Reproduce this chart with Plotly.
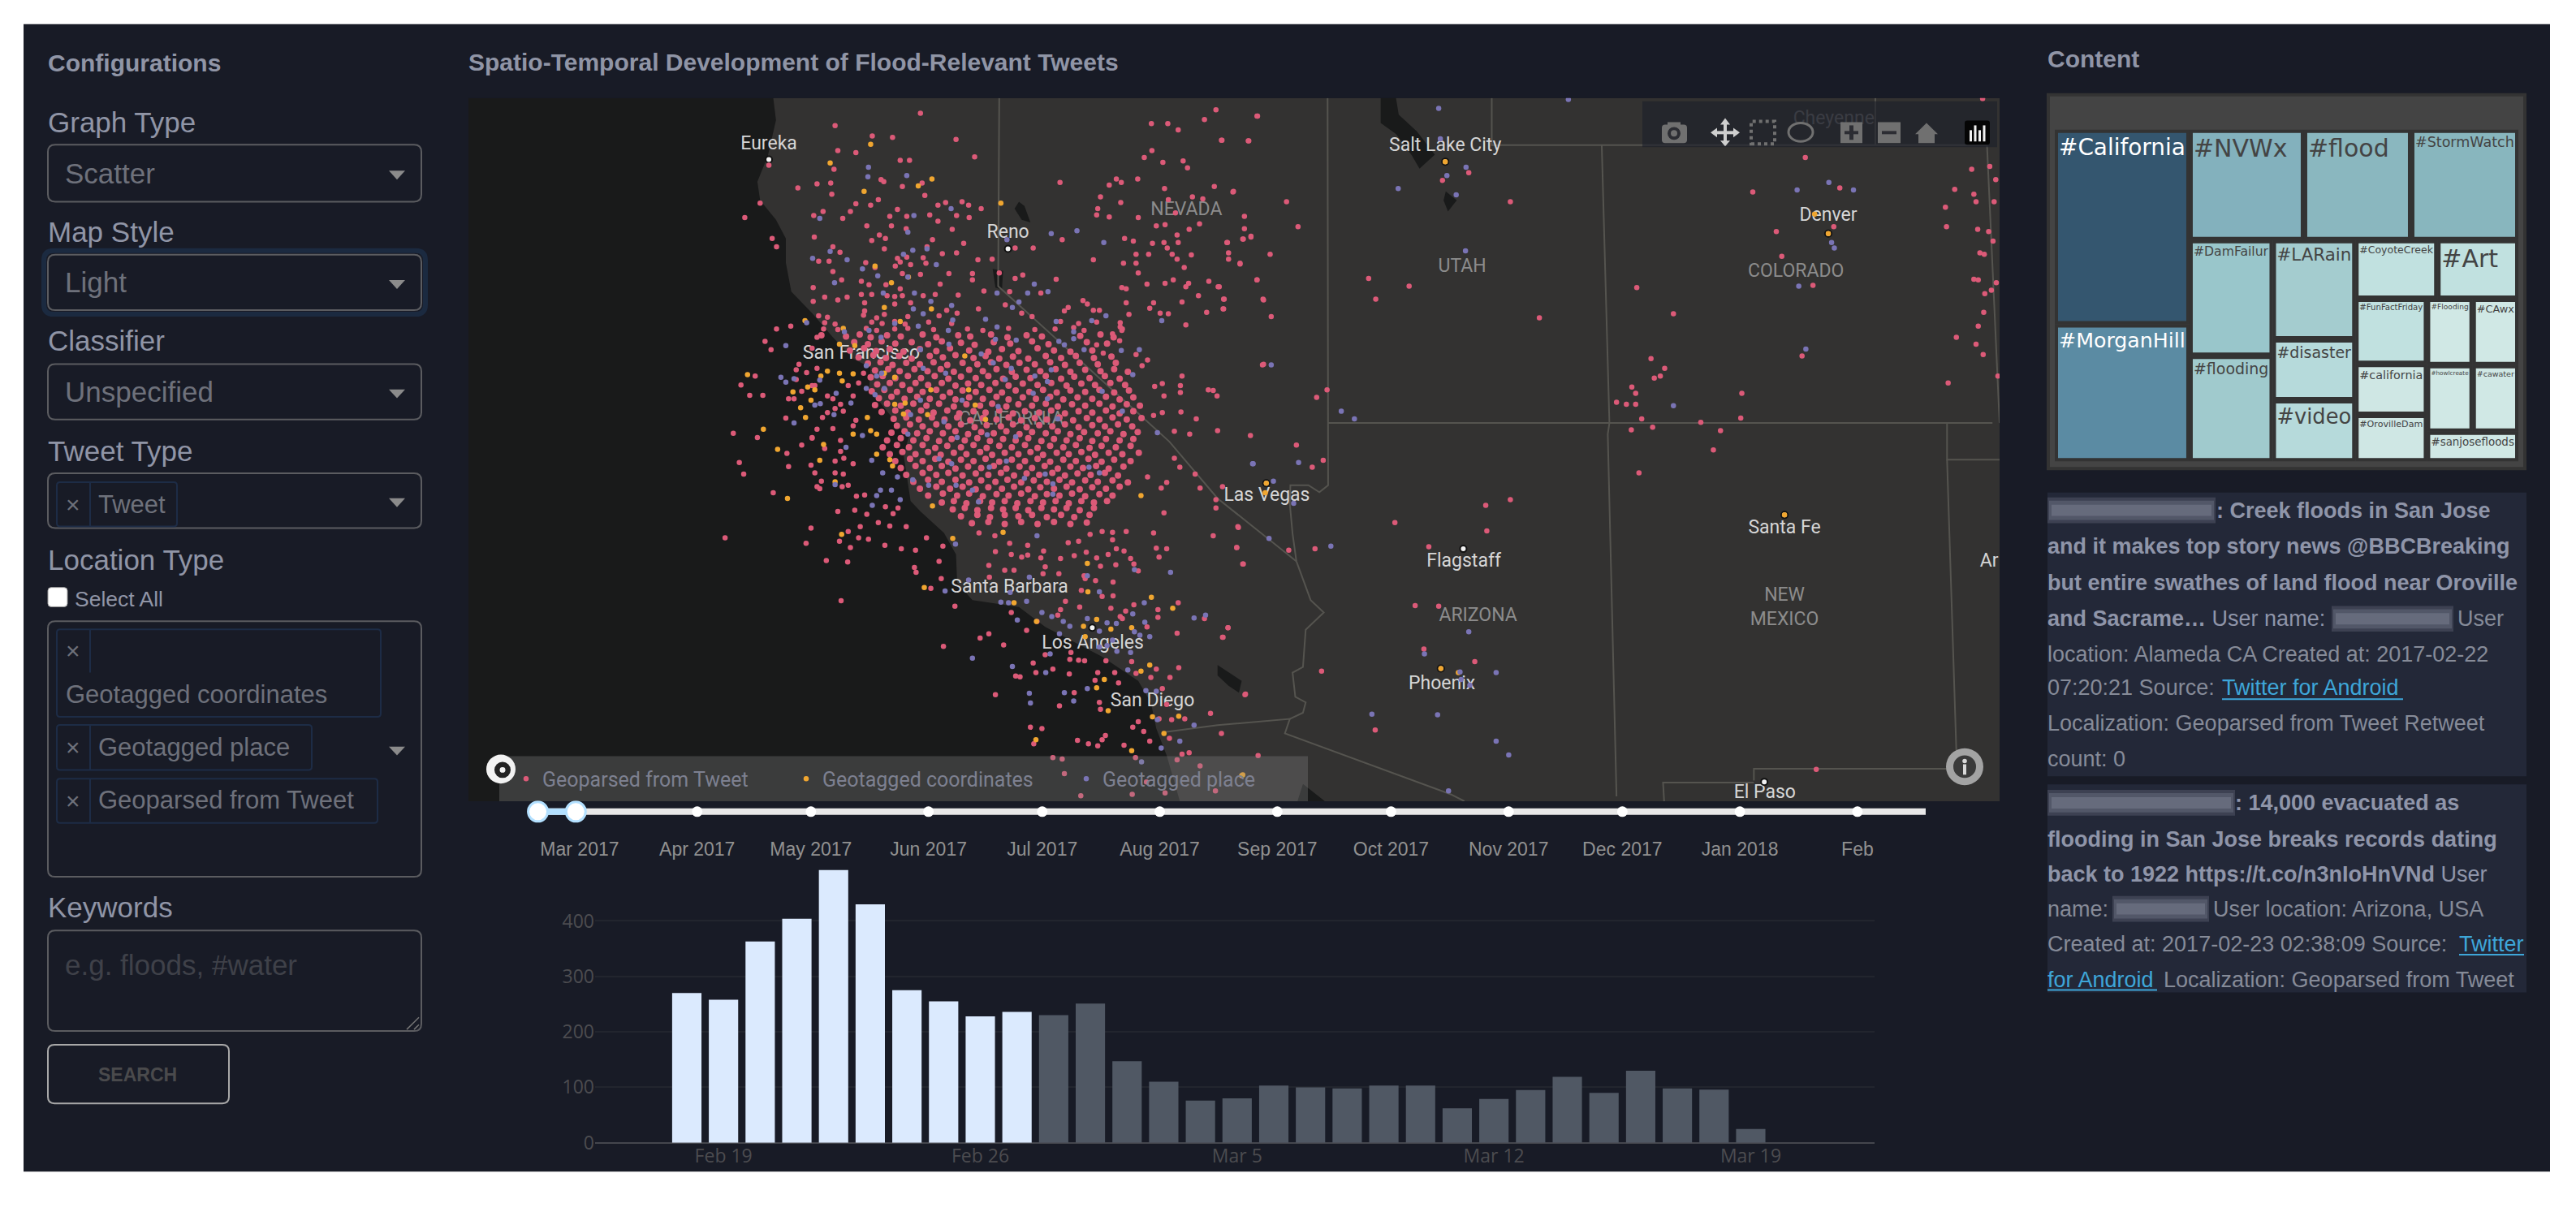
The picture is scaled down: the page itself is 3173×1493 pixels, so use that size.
import plotly.graph_objects as go

W, H = 3173, 1493

# ---------- data ----------
bar_dates_selected = ["2017-02-18","2017-02-19","2017-02-20","2017-02-21","2017-02-22","2017-02-23","2017-02-24","2017-02-25","2017-02-26","2017-02-27"]
bar_values_selected = [270,258,363,404,492,430,275,255,228,236]
bar_dates_rest = ["2017-02-28","2017-03-01","2017-03-02","2017-03-03","2017-03-04","2017-03-05","2017-03-06","2017-03-07","2017-03-08","2017-03-09","2017-03-10","2017-03-11","2017-03-12","2017-03-13","2017-03-14","2017-03-15","2017-03-16","2017-03-17","2017-03-18","2017-03-19"]
bar_values_rest = [230,251,147,110,76,80,103,100,98,103,103,62,79,95,119,90,130,98,96,25]
bar_tick_dates = ["2017-02-19","2017-02-26","2017-03-05","2017-03-12","2017-03-19"]
bar_tick_text = ["Feb 19","Feb 26","Mar 5","Mar 12","Mar 19"]

slider_months = ["2017-03-01","2017-04-01","2017-05-01","2017-06-01","2017-07-01","2017-08-01","2017-09-01","2017-10-01","2017-11-01","2017-12-01","2018-01-01","2018-02-01"]
slider_text = ["Mar 2017","Apr 2017","May 2017","Jun 2017","Jul 2017","Aug 2017","Sep 2017","Oct 2017","Nov 2017","Dec 2017","Jan 2018","Feb"]
slider_span = ["2017-02-18","2018-02-19"]
slider_handles = ["2017-02-18","2017-02-28"]

tree_labels = ["#California","#MorganHill","#NVWx","#flood","#StormWatch","#DamFailur","#flooding","#LARain","#disaster","#video","#Art","#FunFactFriday","#CoyoteCreek","#california","#OrovilleDam","#Flooding","#CAwx","#howIcreate","#cawater","#sanjosefloods"]
tree_values = [2277,1604,1098,1028,1028,837,762,712,438,438,412,406,417,317,288,264,264,264,264,235]
tree_colors = ["#34566f","#5b8ba3","#83b1bd","#8ab7bf","#88b6be","#99c6cb","#a0cacd","#a4cccf","#b6dadb","#b6dadb","#c1e1e0","#c1e1e0","#c1e1e0","#cfe7e4","#cfe7e4","#d0e8e5","#d0e8e5","#d0e8e5","#d0e8e5","#d0e8e5"]

coast = [(-124.28,41.70),(-124.23,41.38),(-124.38,40.86),(-124.57,40.49),(-124.52,40.22),(-124.23,39.94),(-124.05,39.67),(-124.05,39.32),(-123.95,38.9),(-123.57,38.59),(-123.19,38.24),(-122.82,37.93),(-122.5,37.8),(-122.53,37.5),(-122.15,37.12),(-122.0,36.95),(-121.8,36.8),(-121.9,36.55),(-121.77,35.87),(-121.59,35.72),(-121.16,35.41),(-120.94,35.10),(-120.92,34.69),(-120.64,34.44),(-119.79,34.34),(-119.31,34.05),(-118.27,33.62),(-117.61,33.27),(-117.38,32.96),(-117.28,32.58),(-117.09,32.19),(-116.85,31.53),(-114.7,31.53),(-114.6,31.78),(-114.2,31.53),(-101.87,31.53),(-101.87,41.70)]
lakes = [
    [(-113.18,41.70),(-112.9,41.70),(-112.85,41.46),(-112.52,41.22),(-112.19,40.88),(-112.47,40.68),(-112.61,40.87),(-112.9,41.18),(-113.18,41.34)],
    [(-111.99,40.35),(-111.79,40.22),(-111.95,40.06),(-112.03,40.22)],
    [(-119.79,40.2),(-119.69,40.14),(-119.58,39.9),(-119.74,39.94),(-119.87,40.1)],
    [(-120.27,39.23),(-120.08,39.2),(-120.1,38.93),(-120.22,38.96)],
    [(-116.16,33.5),(-115.72,33.27),(-115.77,33.1),(-115.96,33.2),(-116.16,33.35)],
]
borders = [
    [(-120.15,41.70),(-120.17,38.98),(-117.04,36.73),(-116.16,35.91),(-114.72,35.0)],
    [(-114.72,35.0),(-114.79,35.4),(-114.84,35.83),(-114.83,36.1),(-114.5,36.1),(-114.3,36.0),(-114.14,36.1),(-114.14,36.84),(-114.15,41.70)],
    [(-114.72,35.0),(-114.46,34.44),(-114.22,34.26),(-114.55,34.01),(-114.6,33.47),(-114.79,33.39),(-114.74,33.04),(-114.55,32.96),(-114.6,32.81),(-114.84,32.72)],
    [(-117.12,32.53),(-116.16,32.63),(-114.84,32.72),(-114.93,32.51),(-111.9,31.63),(-111.65,31.53)],
    [(-111.15,41.70),(-111.15,41.02),(-102.1,41.02)],
    [(-104.14,41.70),(-104.14,41.02)],
    [(-109.14,41.02),(-109.0,37.0),(-109.03,36.84),(-108.87,31.6)],
    [(-114.14,37.0),(-102.0,37.0)],
    [(-102.1,41.02),(-101.87,37.0)],
    [(-102.83,37.0),(-102.83,36.47),(-101.87,36.47)],
    [(-102.83,36.47),(-102.65,32.0),(-106.36,32.0),(-106.36,31.83)],
    [(-106.36,31.8),(-108.02,31.8),(-108.0,31.53)],
]
city_dots = [(-124.36,40.81),(-119.99,39.52),(-118.45,34.04),(-111.67,35.18),(-106.17,31.81),(-112.0,40.78),(-105.0,39.74),(-115.27,36.13),(-105.8,35.67),(-112.08,33.45)]
city_labels = ["Eureka","Reno","San Francisco","Santa Barbara","Los Angeles","San Diego","Las Vegas","Flagstaff","Phoenix","Santa Fe","El Paso","Ar","Salt Lake City","Denver"]
city_lon = [-124.36,-119.99,-122.67,-119.96,-118.44,-117.35,-115.26,-111.66,-112.06,-105.8,-106.16,-102.06,-112.0,-105.0]
city_lat = [41.03,39.74,38.0,34.62,33.8,32.97,35.94,34.99,33.22,35.47,31.65,34.99,41.0,39.99]
state_labels = ["NEVADA","UTAH","COLORADO","CALIFORNIA","ARIZONA","NEW<br>MEXICO"]
state_lon = [-116.73,-111.69,-105.59,-119.93,-111.4,-105.8]
state_lat = [40.07,39.25,39.18,37.04,34.2,34.32]

geoparsed = [(-121.59,41.48),(-123.15,41.30),(-122.47,41.15),(-122.1,41.13),(-120.94,41.10),(-123.1,40.94),(-122.77,40.91),(-120.6,40.85),(-121.96,40.80),(-121.79,40.80),(-124.36,40.73),(-123.17,40.67),(-122.31,40.52),(-122.26,40.49),(-123.48,40.46),(-123.23,40.47),(-123.83,40.40),(-121.92,40.42),(-121.56,40.47),(-123.21,40.31),(-124.52,40.18),(-121.51,40.29),(-122.36,40.23),(-122.77,40.17),(-122.5,40.15),(-121.27,40.15),(-121.13,40.19),(-120.83,40.20),(-120.71,40.15),(-120.48,40.10),(-122.01,40.09),(-122.87,40.06),(-123.37,40.06),(-123.54,40.0),(-124.8,39.97),(-123.01,39.96),(-122.15,39.99),(-121.84,39.99),(-121.42,40.01),(-120.93,40.0),(-120.7,39.97),(-121.27,39.92),(-122.57,39.85),(-122.12,39.85),(-121.85,39.81),(-121.01,39.80),(-123.53,39.69),(-124.3,39.67),(-122.34,39.72),(-122.23,39.67),(-122.48,39.64),(-121.37,39.65),(-120.8,39.60),(-124.22,39.55),(-123.19,39.55),(-122.25,39.52),(-121.47,39.55),(-119.86,39.53),(-119.53,39.53),(-123.06,39.47),(-120.93,39.46),(-121.19,39.45),(-121.54,39.39),(-121.84,39.40),(-122.01,39.38),(-123.45,39.34),(-123.26,39.34),(-120.54,39.36),(-120.28,39.37),(-122.59,39.32),(-121.96,39.33),(-121.77,39.29),(-122.05,39.27),(-121.49,39.31),(-123.19,39.19),(-122.42,39.25),(-121.92,39.16),(-121.59,39.15),(-121.07,39.16),(-120.64,39.16),(-120.15,39.17),(-119.72,39.14),(-119.86,39.09),(-119.11,39.08),(-120.64,39.07),(-123.03,39.07),(-122.67,39.05),(-122.53,39.0),(-122.22,39.0),(-121.23,39.01),(-123.55,38.96),(-121.96,38.94),(-120.43,38.91),(-119.96,38.90),(-119.39,38.88),(-123.34,38.82),(-123.55,38.76),(-123.1,38.78),(-122.93,38.82),(-122.67,38.86),(-122.48,38.86),(-122.2,38.84),(-122.06,38.83),(-121.92,38.84),(-121.54,38.84),(-121.32,38.86),(-120.9,38.85),(-122.61,38.74),(-122.06,38.72),(-121.77,38.74),(-120.04,38.71),(-120.53,38.65),(-118.62,38.77),(-118.54,38.72),(-118.89,38.67),(-118.96,38.62),(-118.43,38.63),(-118.32,38.63),(-122.61,38.62),(-121.11,38.63),(-120.92,38.59),(-119.74,38.59),(-119.55,38.54),
(-116.19,41.53),(-115.44,41.44),(-117.37,41.33),(-117.07,41.33),(-116.88,41.24),(-116.4,41.39),(-116.09,41.09),(-115.6,41.08),(-117.36,40.94),(-117.5,40.84),(-117.16,40.77),(-116.79,40.79),(-116.71,40.69),(-119.04,40.48),(-118.14,40.44),(-118.01,40.53),(-117.92,40.48),(-117.62,40.53),(-117.13,40.39),(-116.22,40.42),(-115.87,40.35),(-118.3,40.27),(-117.93,40.19),(-117.06,40.23),(-116.62,40.27),(-116.43,40.24),(-118.35,40.1),(-118.37,40.01),(-118.14,39.98),(-117.61,39.97),(-116.93,40.04),(-115.67,39.99),(-117.12,39.87),(-117.28,39.85),(-116.49,39.88),(-116.68,39.8),(-115.67,39.81),(-116.9,39.72),(-119.0,39.65),(-117.86,39.67),(-117.7,39.63),(-117.35,39.6),(-117.14,39.61),(-116.88,39.61),(-115.98,39.61),(-115.69,39.66),(-115.55,39.69),(-117.08,39.53),(-117.65,39.44),(-117.42,39.44),(-116.99,39.44),(-116.64,39.43),(-115.96,39.46),(-115.96,39.37),(-118.43,39.36),(-117.88,39.31),(-117.65,39.31),(-116.9,39.37),(-116.77,39.25),(-115.75,39.31),(-117.61,39.17),(-117.45,39.01),(-116.97,39.07),(-117.12,39.02),(-116.69,39.02),(-116.32,39.05),(-115.44,39.07),(-117.91,38.96),(-117.83,38.94),(-116.74,38.97),(-116.15,38.97),(-116.51,38.84),(-116.04,38.79),(-115.32,38.78),(-117.83,38.74),(-117.33,38.74),(-116.81,38.75),(-117.4,38.66),(-116.05,38.65),(-116.36,38.6),(-117.21,38.59),(-117.06,38.58),(-117.78,38.57),(-116.74,38.42),(-117.94,38.39),(-117.91,38.34),(-118.08,38.29),(-117.95,38.19),(-118.37,38.13),(-118.25,38.01),(-117.65,37.99),(-117.44,37.91),(-117.54,37.83),(-115.32,37.85),(-116.81,37.68),(-116.84,37.54),(-117.17,37.57),(-117.31,37.53),(-116.84,37.44),(-116.33,37.48),(-116.24,37.47),(-116.17,37.39),(-117.14,37.39),(-116.83,37.16),(-116.55,37.06),(-117.17,37.15),(-117.33,37.11),(-116.16,36.89),(-115.56,36.82),(-116.67,36.84),(-116.95,36.88),
(-115.43,41.44),(-116.08,41.09),(-115.59,41.08),(-115.88,40.34),(-114.9,40.2),(-115.55,39.7),(-115.7,39.66),(-114.69,39.84),(-115.99,39.61),(-115.2,39.44),(-115.75,39.3),(-115.44,39.07),(-116.13,38.97),(-115.33,38.79),(-116.05,38.79),(-116.06,38.65),(-115.18,38.54),(-115.34,37.84),(-114.16,37.48),(-114.35,37.37),(-111.57,40.62),(-112.05,40.51),(-110.81,40.2),(-113.4,39.09),(-112.66,38.98),(-113.27,38.79),(-110.28,38.52),(-105.42,40.84),(-106.38,40.34),(-104.79,40.4),(-105.95,39.77),(-104.9,39.84),(-105.85,39.41),(-105.28,38.99),(-108.5,38.96),(-107.83,38.58),(-108.24,37.93),(-107.99,37.79),(-108.07,37.68),(-108.18,37.65),(-108.59,37.52),(-108.52,37.43),(-108.87,37.3),(-108.69,37.27),(-108.52,37.27),(-106.58,37.43),(-105.48,37.97),(-108.41,37.06),(-106.6,37.07),(-107.33,37.01),(-108.21,36.94),(-108.6,36.9),(-106.97,36.89),(-102.18,41.69),(-104.69,41.28),(-102.38,40.67),(-102.05,40.71),(-101.94,40.52),(-102.69,40.38),(-102.34,40.31),(-102.3,40.2),(-101.97,40.2),(-102.86,40.12),(-102.84,39.84),(-102.27,39.8),(-102.07,39.77),(-101.99,39.63),(-102.23,39.46),(-102.15,39.44),(-102.34,39.08),(-102.26,39.07),(-101.93,39.03),(-102.02,38.92),(-102.14,38.87),(-102.16,38.6),(-102.26,38.4),(-102.66,38.24),(-102.3,38.14),(-102.17,37.99),(-102.81,37.58),(-101.9,37.68),
(-114.72,36.68),(-114.23,36.46),(-114.43,36.36),(-116.07,36.08),(-115.78,35.49),(-115.81,35.2),(-114.86,35.16),(-114.38,35.18),(-115.7,34.96),(-110.81,35.89),(-111.26,35.81),(-112.92,35.56),(-111.24,35.44),(-112.3,35.21),(-107.1,36.61),(-108.46,36.28),(-112.55,34.36),(-112.12,34.35),(-115.97,34.04),(-116.07,33.9),(-112.39,33.73),(-111.46,33.55),(-114.26,33.41),(-115.66,33.07),(-113.28,32.56),(-116.09,32.51),(-115.42,32.19),(-105.22,31.99),(-118.66,31.61),(-117.72,31.63),(-117.12,31.65),(-116.2,31.68),(-117.46,31.81),(-118.96,31.93),
(-124.9,36.43),(-124.82,36.26),(-124.0,36.37),(-124.28,35.99),(-123.1,35.72),(-122.79,35.74),(-122.57,35.68),(-122.23,35.79),(-122.0,35.77),(-122.09,35.69),(-122.36,35.56),(-122.15,35.51),(-121.85,35.5),(-122.69,35.5),(-123.59,35.48),(-122.91,35.43),(-122.72,35.34),(-122.54,35.32),(-123.07,35.29),(-123.68,35.26),(-125.16,35.34),(-122.87,35.2),(-122.24,35.23),(-121.94,35.18),(-121.68,35.16),(-121.48,35.34),(-121.18,35.22),(-123.31,35.01),(-122.92,34.99),(-121.25,35.0),(-121.7,34.91),(-121.67,34.84),(-121.21,34.75),(-121.4,34.61),(-123.04,34.43),(-120.96,34.35),(-120.34,34.94),(-120.05,34.87),(-119.88,34.87),(-120.33,34.77),(-119.93,34.26),(-120.34,33.95),(-120.5,33.89),(-119.65,34.0),(-121.17,33.77),(-120.07,33.79),(-119.53,33.53),(-119.48,33.39),(-119.17,33.44),(-119.85,33.34),(-119.77,33.33),(-118.87,33.37),(-120.22,33.07),(-118.78,33.1),(-119.05,32.91),(-118.32,32.96),(-118.3,32.86),(-118.35,33.39),(-118.04,33.39),(-118.4,33.28),(-117.97,33.24),(-119.58,32.6),(-119.37,32.58),(-118.72,32.41),(-118.52,32.36),(-118.35,32.33),(-118.27,32.42),(-118.21,32.48),(-119.52,32.36),(-117.87,32.34),(-119.17,32.16),(-119.0,32.14),(-117.66,32.16),(-117.71,32.6),(-117.61,32.68),(-117.51,32.54),(-117.4,32.4),(-117.04,32.44),(-116.81,32.21),(-116.68,32.23),(-116.9,32.13),(-116.48,32.04),(-117.23,32.72),(-117.0,32.71),(-116.76,32.72),(-116.29,32.8),(-115.65,33.08),(-115.97,34.04),(-116.06,33.9),(-116.9,33.96),(-116.87,33.46),(-117.03,33.32),(-117.28,33.44),(-117.38,33.32),(-117.65,33.38),(-117.73,33.55),(-117.09,32.93),(-117.17,33.16),(-118.2,33.56),(-118.84,33.68),(-118.86,33.58),(-118.7,33.57),(-118.59,33.56),(-119.31,33.65),(-119.46,34.13),(-119.03,34.3),(-118.94,34.42),(-119.08,34.22),(-118.68,34.34),(-118.11,34.32),(-117.84,34.28),(-117.69,34.37),(-117.25,34.3),(-117.25,34.19),(-117.94,34.2),(-117.9,34.17),(-116.88,34.4),(-116.4,34.17),(-117.45,34.05),(-118.58,34.75),(-118.07,34.7),(-118.39,34.72),(-118.27,34.49),(-118.07,34.5),(-118.65,34.58),
(-120.52,35.41),(-120.23,35.37),(-119.96,35.26),(-120.22,35.14),(-119.93,35.1),(-119.74,35.06),(-119.63,35.09),(-119.63,35.23),(-119.34,35.15),(-119.39,35.05),(-119.31,34.92),(-119.03,35.04),(-119.06,34.82),(-119.35,34.82),(-118.78,35.08),(-118.56,35.13),(-118.37,35.05),(-118.16,35.1),(-118.02,34.95),(-117.75,35.04),(-118.3,34.93),(-118.6,34.79),(-117.61,34.86),(-117.69,34.96),(-117.87,35.15),(-118.01,35.18),(-118.08,35.31),(-117.83,35.43),(-118.08,35.42),(-118.27,35.43),(-118.49,35.39),(-118.7,35.29),(-118.89,35.27),(-117.33,35.41),(-117.28,35.19),(-117.09,35.18),(-117.23,35.06),(-117.19,36.06),(-116.95,36.49),(-116.85,36.36),(-116.57,36.26),(-116.48,36.06),(-116.19,35.89),(-116.19,35.77),(-117.14,35.7),(-115.79,35.5),(-116.24,35.37),(-115.81,35.2),(-115.69,34.96),(-117.09,36.14),(-117.44,36.22),
(-124.22,38.36),(-123.96,38.4),(-124.43,38.18),(-124.32,38.06),(-124.61,37.68),(-124.87,37.55),(-124.71,37.4),(-124.47,37.4),(-125.01,36.85),(-124.57,36.79),(-124.05,37.07),(-124.0,37.35),(-123.86,37.77),(-123.57,38.08),(-123.48,38.24),(-123.86,37.63),(-123.81,37.85),(-123.57,37.54),
(-124.03,36.56),(-123.76,36.68),(-123.57,36.78),(-123.59,36.39),(-123.34,36.63),(-123.15,36.45),(-123.05,36.59),(-122.82,36.41),(-122.99,36.49),(-123.52,36.28),(-123.4,36.16),(-123.48,36.08),(-123.15,36.28),(-123.0,36.26),(-122.91,36.1),(-123.02,36.08),(-122.61,35.96),(-122.76,35.94),(-123.43,36.05),
(-122.72,37.58),(-123.19,37.35),(-123.05,37.27),(-123.29,37.15),(-123.15,37.21),(-123.0,37.17),(-123.29,37.39),(-123.52,37.54),(-123.67,37.73),(-123.48,37.79),(-122.91,37.54),(-122.82,37.39),(-122.63,37.72),(-123.76,37.46),(-123.9,37.35),(-123.38,37.08),(-122.77,37.04),(-123.19,36.92),(-123.48,36.91),(-123.57,36.79),(-122.82,36.96),(-123.05,36.75),
(-123.45,38.55),(-123.29,38.53),(-122.63,38.56),(-122.39,38.52),(-122.25,38.57),(-121.82,38.54),(-121.25,38.55),(-123.34,38.45),(-123.15,38.43),(-122.48,38.46),(-122.29,38.44),(-122.06,38.47),(-121.87,38.43),(-121.44,38.46),(-121.02,38.44),(-118.37,38.46),(-118.7,38.44),(-119.03,38.47),(-117.94,38.45),(-123.36,38.36),(-123.1,38.35),(-122.58,38.37),(-122.39,38.34),(-122.06,38.36),(-121.82,38.37),(-121.35,38.35),(-120.73,38.36),(-120.45,38.34),(-119.98,38.37),(-119.5,38.35),(-119.13,38.36),(-118.79,38.38),(-118.6,38.34),(-117.9,38.36)]

geoparsed_core = [(-123.4,38.27),(-122.95,38.25),(-122.7,38.28),(-122.5,38.24),(-122.2,38.27),(-121.95,38.25),(-121.55,38.28),(-121.3,38.24),(-120.9,38.27),(-120.68,38.25),(-120.3,38.28),(-120.0,38.24),(-119.65,38.27),(-119.37,38.25),(-118.67,38.26),(-118.3,38.28),(-118.06,38.24),
(-122.8,38.17),(-122.55,38.14),(-122.3,38.18),(-122.05,38.15),(-121.75,38.17),(-121.45,38.14),(-121.2,38.18),(-120.85,38.16),(-120.6,38.13),(-120.25,38.17),(-119.95,38.15),(-119.55,38.18),(-119.25,38.14),(-118.55,38.17),(-118.18,38.15),
(-122.88,38.05),(-122.62,38.08),(-122.4,38.04),(-122.15,38.07),(-121.9,38.03),(-121.6,38.07),(-121.3,38.04),(-121.05,38.08),(-120.7,38.05),(-120.35,38.03),(-120.1,38.07),(-119.8,38.04),(-119.45,38.08),(-119.15,38.05),(-118.85,38.03),(-118.45,38.05),
(-122.72,37.95),(-122.45,37.98),(-122.22,37.94),(-121.98,37.97),(-121.75,37.93),(-121.42,37.97),(-121.18,37.95),(-120.95,37.98),(-120.62,37.94),(-120.4,37.97),(-120.15,37.93),(-119.9,37.96),(-119.62,37.93),(-119.3,37.97),(-119.02,37.94),(-118.75,37.97),(-118.42,37.94),(-118.1,37.96),
(-122.55,37.86),(-122.32,37.88),(-122.1,37.84),(-121.85,37.87),(-121.6,37.85),(-121.35,37.88),(-121.1,37.84),(-120.82,37.87),(-120.55,37.85),(-120.3,37.88),(-120.02,37.84),(-119.78,37.87),(-119.5,37.85),(-119.22,37.88),(-118.95,37.84),(-118.68,37.87),(-118.35,37.85),(-118.02,37.87),
(-122.42,37.76),(-122.18,37.78),(-121.97,37.75),(-121.7,37.78),(-121.46,37.75),(-121.22,37.78),(-120.98,37.74),(-120.7,37.77),(-120.45,37.75),(-120.2,37.78),(-119.92,37.74),(-119.65,37.77),(-119.4,37.75),(-119.12,37.78),(-118.85,37.74),(-118.58,37.77),(-118.3,37.75),(-118.05,37.78),(-117.8,37.74),
(-122.5,37.66),(-122.28,37.68),(-122.05,37.65),(-121.82,37.68),(-121.58,37.65),(-121.33,37.68),(-121.08,37.64),(-120.85,37.67),(-120.58,37.65),(-120.35,37.68),(-120.08,37.64),(-119.85,37.67),(-119.58,37.65),(-119.3,37.68),(-119.02,37.64),(-118.78,37.67),(-118.5,37.65),(-118.22,37.68),(-117.95,37.64),
(-122.38,37.56),(-122.15,37.58),(-121.92,37.55),(-121.68,37.58),(-121.45,37.55),(-121.2,37.58),(-120.95,37.54),(-120.72,37.57),(-120.48,37.55),(-120.22,37.58),(-119.98,37.54),(-119.72,37.57),(-119.45,37.55),(-119.2,37.58),(-118.92,37.54),(-118.65,37.57),(-118.4,37.55),(-118.12,37.58),(-117.85,37.55),
(-122.48,37.46),(-122.25,37.48),(-122.02,37.45),(-121.78,37.48),(-121.55,37.45),(-121.3,37.48),(-121.05,37.44),(-120.82,37.47),(-120.58,37.45),(-120.33,37.48),(-120.1,37.44),(-119.85,37.47),(-119.6,37.45),(-119.35,37.48),(-119.1,37.44),(-118.85,37.47),(-118.58,37.45),(-118.32,37.48),(-118.05,37.44),(-117.78,37.47),
(-122.35,37.36),(-122.12,37.38),(-121.88,37.35),(-121.65,37.38),(-121.42,37.35),(-121.18,37.38),(-120.95,37.34),(-120.7,37.37),(-120.45,37.35),(-120.2,37.38),(-119.98,37.34),(-119.72,37.37),(-119.48,37.35),(-119.22,37.38),(-118.98,37.34),(-118.72,37.37),(-118.45,37.35),(-118.2,37.38),(-117.95,37.34),(-117.7,37.37),
(-122.42,37.26),(-122.2,37.28),(-121.95,37.25),(-121.72,37.28),(-121.48,37.25),(-121.25,37.28),(-120.98,37.24),(-120.75,37.27),(-120.5,37.25),(-120.28,37.28),(-120.02,37.24),(-119.8,37.27),(-119.55,37.25),(-119.3,37.28),(-119.08,37.24),(-118.82,37.27),(-118.58,37.25),(-118.32,37.28),(-118.08,37.24),(-117.82,37.27),(-117.58,37.25),
(-122.3,37.16),(-122.05,37.18),(-121.82,37.15),(-121.58,37.18),(-121.35,37.15),(-121.1,37.18),(-120.88,37.14),(-120.62,37.17),(-120.4,37.15),(-120.15,37.18),(-119.9,37.14),(-119.68,37.17),(-119.42,37.15),(-119.2,37.18),(-118.95,37.14),(-118.7,37.17),(-118.45,37.15),(-118.2,37.18),(-117.95,37.14),(-117.7,37.17),
(-122.08,37.06),(-121.85,37.08),(-121.62,37.05),(-121.38,37.08),(-121.15,37.05),(-120.92,37.08),(-120.68,37.04),(-120.45,37.07),(-120.2,37.05),(-119.98,37.08),(-119.75,37.04),(-119.5,37.07),(-119.28,37.05),(-119.05,37.08),(-118.8,37.04),(-118.55,37.07),(-118.32,37.05),(-118.08,37.08),(-117.82,37.05),(-117.55,37.07),
(-122.02,36.96),(-121.78,36.98),(-121.55,36.95),(-121.3,36.98),(-121.08,36.95),(-120.85,36.98),(-120.6,36.94),(-120.38,36.97),(-120.12,36.95),(-119.9,36.98),(-119.65,36.94),(-119.42,36.97),(-119.18,36.95),(-118.95,36.98),(-118.7,36.94),(-118.45,36.97),(-118.22,36.95),(-117.98,36.98),(-117.72,36.95),
(-122.12,36.86),(-121.88,36.88),(-121.65,36.85),(-121.42,36.88),(-121.18,36.85),(-120.95,36.88),(-120.72,36.84),(-120.48,36.87),(-120.25,36.85),(-120.02,36.88),(-119.78,36.84),(-119.55,36.87),(-119.3,36.85),(-119.08,36.88),(-118.85,36.84),(-118.6,36.87),(-118.35,36.85),(-118.12,36.88),(-117.88,36.84),(-117.62,36.87),
(-122.2,36.75),(-121.95,36.78),(-121.72,36.75),(-121.48,36.78),(-121.25,36.74),(-121.02,36.77),(-120.78,36.75),(-120.55,36.78),(-120.32,36.74),(-120.08,36.77),(-119.85,36.75),(-119.62,36.78),(-119.38,36.74),(-119.15,36.77),(-118.92,36.75),(-118.68,36.78),(-118.45,36.74),(-118.2,36.77),(-117.95,36.75),(-117.7,36.77),
(-122.28,36.65),(-122.02,36.68),(-121.8,36.65),(-121.55,36.68),(-121.32,36.64),(-121.1,36.67),(-120.85,36.65),(-120.62,36.68),(-120.38,36.64),(-120.15,36.67),(-119.92,36.65),(-119.68,36.68),(-119.45,36.64),(-119.22,36.67),(-118.98,36.65),(-118.75,36.68),(-118.5,36.64),(-118.28,36.67),(-118.02,36.65),(-117.75,36.67),
(-122.15,36.55),(-121.92,36.58),(-121.68,36.55),(-121.45,36.58),(-121.22,36.54),(-120.98,36.57),(-120.75,36.55),(-120.5,36.58),(-120.28,36.54),(-120.05,36.57),(-119.8,36.55),(-119.58,36.58),(-119.35,36.54),(-119.1,36.57),(-118.88,36.55),(-118.65,36.58),(-118.4,36.54),(-118.15,36.57),(-117.9,36.55),(-117.6,36.57),
(-122.05,36.45),(-121.78,36.48),(-121.55,36.45),(-121.32,36.48),(-121.08,36.44),(-120.85,36.47),(-120.62,36.45),(-120.4,36.48),(-120.15,36.44),(-119.92,36.47),(-119.68,36.45),(-119.45,36.48),(-119.22,36.44),(-118.98,36.47),(-118.75,36.45),(-118.52,36.48),(-118.28,36.44),(-118.05,36.47),(-117.75,36.45),
(-121.95,36.35),(-121.68,36.38),(-121.42,36.35),(-121.2,36.38),(-120.95,36.34),(-120.72,36.37),(-120.48,36.35),(-120.25,36.38),(-120.02,36.34),(-119.78,36.37),(-119.55,36.35),(-119.32,36.38),(-119.08,36.34),(-118.85,36.37),(-118.62,36.35),(-118.38,36.38),(-118.15,36.34),(-117.88,36.37),
(-121.85,36.25),(-121.55,36.28),(-121.3,36.25),(-121.08,36.28),(-120.82,36.24),(-120.58,36.27),(-120.35,36.25),(-120.12,36.28),(-119.88,36.24),(-119.65,36.27),(-119.42,36.25),(-119.18,36.28),(-118.95,36.24),(-118.72,36.27),(-118.48,36.25),(-118.22,36.28),(-117.98,36.24),
(-121.72,36.15),(-121.45,36.18),(-121.2,36.15),(-120.95,36.18),(-120.7,36.14),(-120.48,36.17),(-120.22,36.15),(-120.0,36.18),(-119.75,36.14),(-119.52,36.17),(-119.28,36.15),(-119.05,36.18),(-118.82,36.14),(-118.58,36.17),(-118.35,36.15),(-118.08,36.17),(-117.8,36.14),
(-121.6,36.05),(-121.3,36.08),(-121.05,36.05),(-120.82,36.08),(-120.58,36.04),(-120.35,36.07),(-120.1,36.05),(-119.88,36.08),(-119.62,36.04),(-119.4,36.07),(-119.15,36.05),(-118.92,36.08),(-118.68,36.04),(-118.45,36.07),(-118.2,36.05),(-117.95,36.08),
(-121.45,35.95),(-121.18,35.98),(-120.92,35.95),(-120.7,35.98),(-120.45,35.94),(-120.2,35.97),(-119.98,35.95),(-119.75,35.98),(-119.5,35.94),(-119.28,35.97),(-119.05,35.95),(-118.82,35.98),(-118.58,35.94),(-118.32,35.97),(-118.08,35.95),
(-121.2,35.85),(-120.98,35.87),(-120.75,35.84),(-120.5,35.87),(-120.28,35.85),(-120.05,35.87),(-119.82,35.84),(-119.58,35.87),(-119.35,35.85),(-119.12,35.87),(-118.88,35.84),(-118.65,35.87),(-118.42,35.85),(-118.18,35.87),
(-121.0,35.75),(-120.78,35.77),(-120.55,35.74),(-120.3,35.77),(-120.08,35.75),(-119.85,35.77),(-119.62,35.74),(-119.38,35.77),(-119.15,35.75),(-118.92,35.77),(-118.68,35.74),(-118.42,35.77),
(-120.85,35.65),(-120.55,35.67),(-120.32,35.64),(-120.05,35.67),(-119.8,35.65),(-119.55,35.67),(-119.28,35.64),(-119.02,35.67),(-118.78,35.64),(-118.5,35.67),
(-120.65,35.55),(-120.35,35.57),(-120.05,35.54),(-119.75,35.57),(-119.45,35.54),(-119.15,35.57),(-118.85,35.54),(-118.55,35.56)]

geotagged_coords = [(-122.5,41.03),(-123.24,40.76),(-121.38,40.53),(-121.63,40.43),(-122.62,40.35),(-120.12,40.18),(-122.42,39.27),(-121.81,39.11),(-122.12,39.03),(-122.25,38.67),(-121.39,38.65),(-123.7,38.48),(-121.96,38.47),(-123.0,38.37),(-123.07,38.14),(-122.79,38.12),(-120.78,37.97),(-124.75,37.7),(-122.25,37.72),(-123.29,37.75),(-123.41,37.68),(-123.07,37.72),(-122.82,37.71),(-123.02,37.61),(-122.06,37.66),(-123.65,37.52),(-123.52,37.48),(-123.92,37.45),(-123.59,37.33),(-121.4,37.48),(-120.71,37.48),(-122.06,37.27),(-121.87,37.29),(-123.78,37.22),(-120.59,37.26),(-123.69,37.08),(-121.9,37.13),(-121.46,37.12),(-122.56,37.08),(-120.4,37.05),(-124.46,36.91),(-122.82,36.84),(-122.5,36.89),(-122.39,36.84),(-124.2,36.62),(-123.36,36.69),(-123.43,36.46),(-122.39,36.55),(-122.15,36.47),(-122.1,36.38),(-123.15,36.15),(-124.02,35.91),(-121.37,35.8),(-117.56,35.95),(-123.03,35.39),(-121.0,35.33),(-120.08,35.42),(-118.54,34.97),(-121.52,34.62),(-118.53,34.56),(-119.88,34.4),(-117.37,34.48),(-116.98,34.32),(-118.37,34.16),(-118.61,34.06),(-119.47,34.13),(-118.11,34.02),(-117.73,34.04),(-118.58,33.91),(-117.4,33.5),(-117.56,33.41),(-118.23,33.29),(-118.37,33.17),(-117.35,32.75),(-118.16,32.84),(-116.87,32.76),(-117.14,32.51),(-119.48,32.42),(-117.73,32.26),(-115.7,31.91),(-105.0,39.74),(-105.25,40.02),(-112.0,40.78),(-115.27,36.13),(-115.29,35.99),(-105.8,35.67),(-112.08,33.45),(-111.76,33.39),(-115.72,31.9)]

geotagged_place = [(-122.54,40.7),(-122.55,40.56),(-121.84,40.58),(-121.03,40.1),(-121.71,40.0),(-123.43,39.96),(-121.82,39.76),(-120.01,39.65),(-119.2,39.74),(-118.73,39.78),(-118.24,39.61),(-121.73,39.5),(-121.9,39.44),(-121.47,39.52),(-123.24,39.48),(-123.56,39.38),(-122.93,39.36),(-121.3,39.29),(-122.65,39.23),(-122.37,39.13),(-121.82,39.11),(-123.16,39.03),(-119.51,39.01),(-120.19,38.88),(-119.26,38.9),(-119.63,38.88),(-119.79,38.75),(-119.91,38.67),(-122.27,38.88),(-121.7,38.88),(-121.02,38.7),(-121.4,38.76),(-121.72,38.65),(-121.54,38.58),(-121.0,38.49),(-120.4,38.5),(-118.2,38.55),(-119.11,38.47),(-118.46,38.48),(-117.18,38.48),(-123.67,38.45),(-122.06,38.44),(-121.63,38.4),(-120.19,38.39),(-122.98,38.32),(-122.53,38.34),(-121.08,38.34),(-122.31,38.24),(-120.22,38.21),(-119.84,38.2),(-118.79,38.32),(-118.79,38.22),(-119.06,38.18),(-118.96,38.13),(-118.6,38.06),(-117.92,38.05),(-117.59,38.06),(-121.07,38.14),(-124.05,38.12),(-121.59,38.06),(-120.48,38.0),(-122.58,37.83),(-121.54,37.79),(-122.39,37.68),(-122.3,37.72),(-120.26,37.87),(-119.93,37.79),(-121.13,37.72),(-119.2,37.77),(-117.71,37.7),(-119.5,37.68),(-124.14,37.66),(-123.9,37.64),(-124.05,37.59),(-123.43,37.62),(-122.58,37.5),(-122.25,37.5),(-120.04,37.63),(-119.27,37.6),(-123.13,37.43),(-122.42,37.41),(-121.59,37.33),(-120.83,37.33),(-119.53,37.43),(-118.27,37.46),(-123.42,37.28),(-123.52,37.26),(-122.86,37.29),(-120.17,37.24),(-119.27,37.35),(-117.9,37.17),(-123.17,37.12),(-123.9,37.0),(-121.77,37.12),(-121.16,37.02),(-119.08,37.06),(-122.65,36.82),(-121.82,36.84),(-120.92,36.79),(-120.37,36.83),(-119.85,36.8),(-117.26,36.86),
(-122.95,36.65),(-122.48,36.46),(-121.25,36.48),(-121.02,36.41),(-120.33,36.36),(-120.02,36.45),(-119.69,36.2),(-119.31,36.26),(-119.17,36.12),(-118.51,36.36),(-118.32,36.28),(-122.28,36.28),(-122.01,36.22),(-121.73,36.18),(-123.15,36.11),(-120.94,36.1),(-121.44,36.1),(-120.64,36.03),(-119.17,35.97),(-122.32,36.03),(-122.12,36.03),(-122.39,35.95),(-121.96,35.89),(-122.47,35.81),(-120.53,35.86),(-115.51,36.41),(-119.46,35.37),(-120.95,35.25),(-117.68,34.88),(-117.02,34.84),(-120.71,34.73),(-119.6,34.77),(-118.54,34.79),(-121.14,34.57),(-119.95,34.55),(-118.32,34.56),(-120.12,34.41),(-119.98,34.4),(-119.65,34.42),(-117.5,34.4),(-119.37,34.26),(-119.19,34.2),(-119.82,34.15),(-118.98,34.13),(-118.54,34.17),(-118.86,34.06),(-118.18,34.11),(-118.01,34.1),(-117.71,34.24),(-117.49,34.12),(-116.59,34.18),(-116.38,34.22),(-119.05,33.95),(-118.32,33.99),(-117.68,33.98),(-117.58,33.93),(-117.4,33.91),(-118.08,33.86),(-118.18,33.78),(-118.32,33.76),(-118.0,33.7),(-117.75,33.68),(-119.22,33.66),(-120.64,33.6),(-119.91,33.48),(-119.3,33.39),(-117.8,33.43),(-118.54,33.16),(-119.6,33.09),(-118.96,33.1),(-119.58,32.95),(-118.79,32.98),(-117.47,33.13),(-117.28,33.12),(-117.26,32.71),(-116.59,32.63),(-116.85,32.4),(-117.19,32.3),(-117.55,32.1),
(-115.18,37.84),(-112.12,41.55),(-109.75,41.68),(-112.09,41.11),(-111.62,40.7),(-111.97,40.58),(-112.86,40.39),(-111.8,40.3),(-111.63,39.49),(-104.99,40.48),(-105.57,40.37),(-104.54,40.37),(-104.94,39.61),(-104.89,39.53),(-105.54,38.98),(-105.41,38.07),(-107.83,37.25),(-113.9,37.17),(-113.66,37.06),(-115.52,36.41),(-114.68,36.43),(-115.14,36.16),(-114.77,35.84),(-115.22,35.33),(-114.09,35.22),(-111.57,33.98),(-112.38,33.66),(-111.73,33.4),(-111.71,33.29),(-111.55,33.21),(-111.07,33.39),(-113.34,32.79),(-112.14,32.78),(-111.07,32.4),(-110.84,32.2),(-111.94,31.68)]

# ---------- colours ----------
PANEL = "#181b26"; OCEAN = "#191a1a"; LAND = "#333231"; LINE = "#55544f"
PINK = "#dc5a78"; AMBER = "#f0a630"; PURPLE = "#7a74b5"
HEAD = "#9095a6"; BOX = "#5b5c60"; CHIP = "#1d2c46"; FIELD = "#6e717b"
BOLDTXT = "#8f95a9"; REGTXT = "#868b98"; LINK = "#3ea6d8"; SANS = "Liberation Sans"

def px(x): return x / W
def py(y): return 1 - y / H

shapes, annotations = [], []

def rect(x0, y0, x1, y1, fill="rgba(0,0,0,0)", line=None, lw=0, r=0, layer="above"):
    if r:
        path = (f"M{px(x0+r)},{py(y0)} L{px(x1-r)},{py(y0)} Q{px(x1)},{py(y0)} {px(x1)},{py(y0+r)} "
                f"L{px(x1)},{py(y1-r)} Q{px(x1)},{py(y1)} {px(x1-r)},{py(y1)} L{px(x0+r)},{py(y1)} "
                f"Q{px(x0)},{py(y1)} {px(x0)},{py(y1-r)} L{px(x0)},{py(y0+r)} Q{px(x0)},{py(y0)} {px(x0+r)},{py(y0)} Z")
        shapes.append(dict(type="path", xref="paper", yref="paper", path=path, fillcolor=fill,
                           line=dict(color=line or "rgba(0,0,0,0)", width=lw), layer=layer))
    else:
        shapes.append(dict(type="rect", xref="paper", yref="paper", x0=px(x0), x1=px(x1), y0=py(y1), y1=py(y0),
                           fillcolor=fill, line=dict(color=line or "rgba(0,0,0,0)", width=lw), layer=layer))

def poly(points, fill="rgba(0,0,0,0)", line=None, lw=0, closed=True):
    d = "M" + " L".join(f"{px(a)},{py(b)}" for a, b in points) + (" Z" if closed else "")
    shapes.append(dict(type="path", xref="paper", yref="paper", path=d, fillcolor=fill,
                       line=dict(color=line or "rgba(0,0,0,0)", width=lw), layer="above"))

def circle(cx, cy, rad, fill, line=None, lw=0):
    shapes.append(dict(type="circle", xref="paper", yref="paper", x0=px(cx-rad), x1=px(cx+rad), y0=py(cy+rad), y1=py(cy-rad),
                       fillcolor=fill, line=dict(color=line or "rgba(0,0,0,0)", width=lw), layer="above"))

def text(x, y, s, size, color, anchor="left", family=SANS):
    annotations.append(dict(xref="paper", yref="paper", x=px(x), y=py(y), text=s, showarrow=False, xanchor=anchor,
                            yanchor="middle", borderpad=0, borderwidth=0, font=dict(family=family, size=size, color=color)))

# page panel
rect(29, 30, 3141, 1458, fill=PANEL, layer="below")

# ---------- left column ----------
text(59, 78, "<b>Configurations</b>", 30, HEAD)

def caret(cx, cy):
    poly([(cx-10, cy-5), (cx+10, cy-5), (cx, cy+6)], fill="#8b8b8b")

def dropdown(label, ly, y0, y1, value, glow=False):
    text(59, ly, label, 35, HEAD)
    if glow:
        rect(54, y0-5, 524, y1+5, fill=PANEL, line="#1b2a40", lw=6, r=12)
    rect(59, y0, 519, y1, fill=PANEL, line=BOX, lw=2, r=9)
    if value:
        text(80, (y0+y1)/2, value, 35, FIELD)
    caret(489, (y0+y1)/2 + 2)

def chip(y0, y1, x1, label=None, xy=None, div_y1=None):
    rect(70, y0, x1, y1, line=CHIP, lw=2, r=4)
    shapes.append(dict(type="line", xref="paper", yref="paper", x0=px(111), x1=px(111), y0=py(y0), y1=py(div_y1 or y1),
                       line=dict(color=CHIP, width=2), layer="above"))
    text(90, (y0+(div_y1 or y1))/2, "×", 30, FIELD, anchor="center")
    if label:
        text(xy[0], xy[1], label, 31, FIELD)

dropdown("Graph Type", 152, 180, 251, "Scatter")
dropdown("Map Style", 288, 317, 386, "Light", glow=True)
dropdown("Classifier", 424, 453, 522, "Unspecified")
dropdown("Tweet Type", 561, 589, 657, None)
chip(600, 655, 218, "Tweet", (121, 628))
text(59, 697, "Location Type", 35, HEAD)
rect(59, 731, 83, 755, fill="#ffffff", line="#9a9a9a", lw=1, r=4)
text(92, 745, "Select All", 26.5, HEAD)
rect(59, 773, 519, 1091, fill=PANEL, line=BOX, lw=2, r=9)
chip(783, 892, 469, "Geotagged coordinates", (81, 864), div_y1=837)
chip(902, 958, 384, "Geotagged place", (121, 930))
chip(969, 1024, 465, "Geoparsed from Tweet", (121, 996))
caret(489, 934)
text(59, 1129, "Keywords", 35, HEAD)
rect(59, 1158, 519, 1283, fill=PANEL, line=BOX, lw=2, r=9)
text(80, 1201, "e.g. floods, #water", 35, "#3f4149")
shapes.append(dict(type="line", xref="paper", yref="paper", x0=px(501), x1=px(516), y0=py(1281), y1=py(1266), line=dict(color="#777", width=1.5), layer="above"))
shapes.append(dict(type="line", xref="paper", yref="paper", x0=px(510), x1=px(516), y0=py(1281), y1=py(1275), line=dict(color="#777", width=1.5), layer="above"))
rect(59, 1300, 282, 1373, line="#a8a8a8", lw=2, r=8)
text(169, 1337, "<b>SEARCH</b>", 23, "#4a4a4c", anchor="center")

# ---------- titles ----------
text(577, 77, "<b>Spatio-Temporal Development of Flood-Relevant Tweets</b>", 30, HEAD)
text(2522, 73, "<b>Content</b>", 30, HEAD)

# ---------- map chrome ----------
rect(615, 941, 1611, 997, fill="rgba(140,140,140,0.30)")
circle(617, 957, 18, "#f2f2f2")
circle(619, 958, 10, "#222222")
circle(619, 958, 3.5, "#f2f2f2")
circle(2420, 954, 23, "#a3a3a3")
circle(2420, 954, 14, "#3a3a3a")
circle(2420, 947, 2.8, "#d8d8d8")
rect(2418, 951, 2422, 964, fill="#d8d8d8")
rect(2023, 126, 2460, 183, fill="rgba(28,31,42,0.62)")
IC = "#707070"
rect(2047, 155, 2078, 178, fill=IC, r=4); rect(2054, 152, 2070, 158, fill=IC)
circle(2062, 166, 8, "#2c2d33"); circle(2062, 166, 4, IC)
for a, b, c, d in [(2125, 150, 2125, 180), (2110, 165, 2140, 165)]:
    shapes.append(dict(type="line", xref="paper", yref="paper", x0=px(a), x1=px(c), y0=py(b), y1=py(d), line=dict(color="#cfcfcf", width=4), layer="above"))
poly([(2125, 147), (2119, 155), (2131, 155)], fill="#cfcfcf"); poly([(2125, 182), (2119, 175), (2131, 175)], fill="#cfcfcf")
poly([(2107, 165), (2115, 159), (2115, 171)], fill="#cfcfcf"); poly([(2143, 165), (2135, 159), (2135, 171)], fill="#cfcfcf")
shapes.append(dict(type="rect", xref="paper", yref="paper", x0=px(2157), x1=px(2186), y0=py(179), y1=py(151), line=dict(color=IC, width=4, dash="dot"), layer="above"))
shapes.append(dict(type="circle", xref="paper", yref="paper", x0=px(2203), x1=px(2233), y0=py(176), y1=py(153), line=dict(color=IC, width=3), layer="above"))
rect(2267, 152, 2294, 178, fill=IC); rect(2278, 156, 2283, 174, fill="#2c2d33"); rect(2272, 163, 2289, 167, fill="#2c2d33")
rect(2313, 152, 2341, 178, fill=IC); rect(2318, 163, 2336, 167, fill="#2c2d33")
poly([(2373, 153), (2359, 167), (2363, 167), (2363, 178), (2383, 178), (2383, 167), (2387, 167)], fill=IC)
rect(2420, 150, 2451, 180, fill="#050505", r=3)
for i, hh in enumerate([14, 20, 14, 20]):
    rect(2426+i*5.5, 176-hh, 2429+i*5.5, 176, fill="#f0f0f0")

# ---------- tweets ----------
rect(2522, 613, 3112, 966, fill="#232838")
rect(2522, 976, 3112, 1235, fill="#232838")

def blur(x0, x1, y):
    rect(x0, y-16, x1, y+16, fill="#3d4152")
    rect(x0+2, y-12, x1-2, y+12, fill="#525768")
    rect(x0+5, y-7, x1-5, y+7, fill="#666b7c")

blur(2522, 2729, 635); blur(2872, 3022, 770); blur(2522, 2753, 999); blur(2602, 2721, 1131)
T = 27
text(2730, 635, "<b>: Creek floods in San Jose</b>", T, BOLDTXT)
text(2522, 680, "<b>and it makes top story news @BBCBreaking</b>", T, BOLDTXT)
text(2522, 725, "<b>but entire swathes of land flood near Oroville</b>", T, BOLDTXT)
text(2522, 770, "<b>and Sacrame…</b> User name:", T, BOLDTXT)
text(3027, 770, "User", T, REGTXT)
text(2522, 814, "location: Alameda CA Created at: 2017-02-22", T, REGTXT)
text(2522, 856, "07:20:21 Source:", T, REGTXT)
text(2737, 856, "Twitter for Android", T, LINK)
text(2522, 900, "Localization: Geoparsed from Tweet Retweet", T, REGTXT)
text(2522, 944, "count: 0", T, REGTXT)
text(2753, 999, "<b>: 14,000 evacuated as</b>", T, BOLDTXT)
text(2522, 1044, "<b>flooding in San Jose breaks records dating</b>", T, BOLDTXT)
text(2522, 1088, "<b>back to 1922 https://t.co/n3nIoHnVNd</b> User", T, BOLDTXT)
text(2522, 1131, "name:", T, REGTXT)
text(2726, 1131, "User location: Arizona, USA", T, REGTXT)
text(2522, 1175, "Created at: 2017-02-23 02:38:09 Source:", T, REGTXT)
text(3029, 1175, "Twitter", T, LINK)
text(2522, 1219, "for Android", T, LINK)
text(2665, 1219, "Localization: Geoparsed from Tweet", T, REGTXT)
for a, b, y in [(2737, 2960, 870), (3029, 3109, 1188), (2522, 2657, 1232)]:
    shapes.append(dict(type="line", xref="paper", yref="paper", x0=px(a), x1=px(b), y0=py(y), y1=py(y), line=dict(color=LINK, width=2), layer="above"))

# ---------- figure ----------
fig = go.Figure()
MAPX, MAPY = dict(xaxis="x", yaxis="y"), None

shapes.append(dict(type="rect", xref="x", yref="y", x0=-129.85, x1=-101.87, y0=31.53, y1=41.70, fillcolor=OCEAN, line=dict(width=0), layer="below"))

fig.add_trace(go.Scatter(x=[p[0] for p in coast], y=[p[1] for p in coast], fill="toself", mode="lines", fillcolor=LAND,
                         line=dict(width=0, color=LAND), hoverinfo="skip", showlegend=False))
for lake in lakes:
    fig.add_trace(go.Scatter(x=[p[0] for p in lake], y=[p[1] for p in lake], fill="toself", mode="lines", fillcolor=OCEAN,
                             line=dict(width=0, color=OCEAN), hoverinfo="skip", showlegend=False))
for border in borders:
    fig.add_trace(go.Scatter(x=[p[0] for p in border], y=[p[1] for p in border], mode="lines",
                             line=dict(width=2, color=LINE), hoverinfo="skip", showlegend=False))
fig.add_trace(go.Scatter(x=state_lon, y=state_lat, text=state_labels, mode="text", textposition="middle center",
                         textfont=dict(family="Roboto", size=23, color="#8c8c8c"), hoverinfo="skip", showlegend=False))
fig.add_trace(go.Scatter(x=city_lon, y=city_lat, text=city_labels, mode="text", textposition="middle center",
                         textfont=dict(family="Roboto", size=23, color="#d6d6d6"), hoverinfo="skip", showlegend=False))
fig.add_trace(go.Scatter(x=[-104.9], y=[41.39], text=["Cheyenne"], mode="text", textposition="middle center",
                         textfont=dict(family="Roboto", size=23, color="#6d6d6d"), hoverinfo="skip", showlegend=False))
fig.add_trace(go.Scatter(x=[p[0] for p in city_dots], y=[p[1] for p in city_dots], mode="markers",
                         marker=dict(size=8, color="#f2f2f2", line=dict(width=2, color="#111111")), hoverinfo="skip", showlegend=False))
fig.add_trace(go.Scatter(x=[p[0] for p in geoparsed_core], y=[p[1] for p in geoparsed_core], mode="markers",
                         marker=dict(size=8, color=PINK), legendgroup="g", showlegend=False, name="Geoparsed from Tweet"))
fig.add_trace(go.Scatter(x=[p[0] for p in geoparsed], y=[p[1] for p in geoparsed], mode="markers",
                         marker=dict(size=6.5, color=PINK), legendgroup="g", name="Geoparsed from Tweet"))
fig.add_trace(go.Scatter(x=[p[0] for p in geotagged_coords], y=[p[1] for p in geotagged_coords], mode="markers",
                         marker=dict(size=6.5, color=AMBER), name="Geotagged coordinates"))
fig.add_trace(go.Scatter(x=[p[0] for p in geotagged_place], y=[p[1] for p in geotagged_place], mode="markers",
                         marker=dict(size=6.5, color=PURPLE), name="Geotagged place"))

# slider
fig.add_trace(go.Scatter(x=slider_span, y=[0.5, 0.5], xaxis="x2", yaxis="y2", mode="lines", line=dict(color="#e8e8e8", width=8),
                         hoverinfo="skip", showlegend=False))
fig.add_trace(go.Scatter(x=slider_handles, y=[0.5, 0.5], xaxis="x2", yaxis="y2", mode="lines", line=dict(color="#b3e0ff", width=8),
                         hoverinfo="skip", showlegend=False))
fig.add_trace(go.Scatter(x=slider_months, y=[0.5]*len(slider_months), xaxis="x2", yaxis="y2", mode="markers",
                         marker=dict(size=13, color="#ffffff"), hoverinfo="skip", showlegend=False))
fig.add_trace(go.Scatter(x=slider_handles, y=[0.5, 0.5], xaxis="x2", yaxis="y2", mode="markers",
                         marker=dict(size=24, color="#ffffff", line=dict(color="#b3e0ff", width=3)), hoverinfo="skip", showlegend=False))

# bars
fig.add_trace(go.Bar(x=bar_dates_selected, y=bar_values_selected, xaxis="x3", yaxis="y3", marker=dict(color="#dbeafe", line=dict(width=0)), showlegend=False))
fig.add_trace(go.Bar(x=bar_dates_rest, y=bar_values_rest, xaxis="x3", yaxis="y3", marker=dict(color="#505864", line=dict(width=0)), showlegend=False))

# treemap
fig.add_trace(go.Treemap(
    labels=[""] + tree_labels, parents=[""] + ["" if False else "root"]*0 + [""]*0 + ["__root__"]*len(tree_labels),
    ids=["__root__"] + tree_labels, values=[sum(tree_values)] + tree_values, branchvalues="total", sort=True,
    domain=dict(x=[px(2523), px(3110)], y=[py(583), py(118)]),
    marker=dict(colors=["#444444"] + tree_colors, line=dict(color="#333333", width=4), pad=dict(t=45, l=10, r=10, b=11)),
    textinfo="label", textposition="top left",
    textfont=dict(family="DejaVu Sans", size=30, color=["#444444", "#ffffff", "#ffffff"] + ["#444444"]*18),
    tiling=dict(packing="squarify", pad=4), pathbar=dict(visible=False), hoverinfo="label", root=dict(color="#444444"),
))

HIDE = dict(visible=False, fixedrange=True)
fig.update_layout(
    width=W, height=H, autosize=False, margin=dict(l=0, r=0, t=0, b=0, pad=0),
    paper_bgcolor="#ffffff", plot_bgcolor="rgba(0,0,0,0)", barmode="overlay", bargap=0.2,
    font=dict(family=SANS, color="#777777"), shapes=shapes, annotations=annotations, hovermode="closest",
    xaxis=dict(HIDE, domain=[px(577), px(2463)], range=[-129.85, -101.87]),
    yaxis=dict(HIDE, domain=[py(997), py(122)], range=[31.53, 41.70]),
    xaxis2=dict(type="date", anchor="y2", domain=[px(640), px(2400)], range=["2017-02-13 04:00", "2018-02-25 00:00"], showgrid=False, zeroline=False,
                showline=False, tickmode="array", tickvals=slider_months, ticktext=slider_text, ticks="outside", ticklen=6, tickcolor="rgba(0,0,0,0)",
                tickfont=dict(family=SANS, size=23, color="#919191"), fixedrange=True),
    yaxis2=dict(HIDE, domain=[py(1030), py(990)], range=[0, 1], anchor="x2"),
    xaxis3=dict(type="date", anchor="y3", domain=[px(733), px(2309)], range=["2017-02-15 12:00", "2017-03-22 09:00"], showgrid=False, zeroline=False,
                showline=False, tickmode="array", tickvals=bar_tick_dates, ticktext=bar_tick_text, ticks="", tickfont=dict(family="Open Sans", size=23, color="#4c4c50"), fixedrange=True),
    yaxis3=dict(anchor="x3", domain=[py(1422), py(1077)], range=[0, 500], tickmode="array", tickvals=[0, 100, 200, 300, 400], showgrid=True, gridcolor="#22252e", gridwidth=2,
                zeroline=True, zerolinecolor="#44464d", zerolinewidth=2, tickfont=dict(family="Open Sans", size=23, color="#4c4c50"), fixedrange=True),
    legend=dict(orientation="h", x=px(628), y=py(946), xanchor="left", yanchor="top", bgcolor="rgba(0,0,0,0)", borderwidth=0,
                font=dict(family="Roboto", size=25, color="#7d8090"), entrywidth=300, entrywidthmode="pixels", itemsizing="trace", itemclick=False, itemdoubleclick=False),
)

fig.write_html("out.html", config=dict(displayModeBar=False, responsive=False),
               post_script="document.body.style.margin='0';document.documentElement.style.overflow='hidden';")
